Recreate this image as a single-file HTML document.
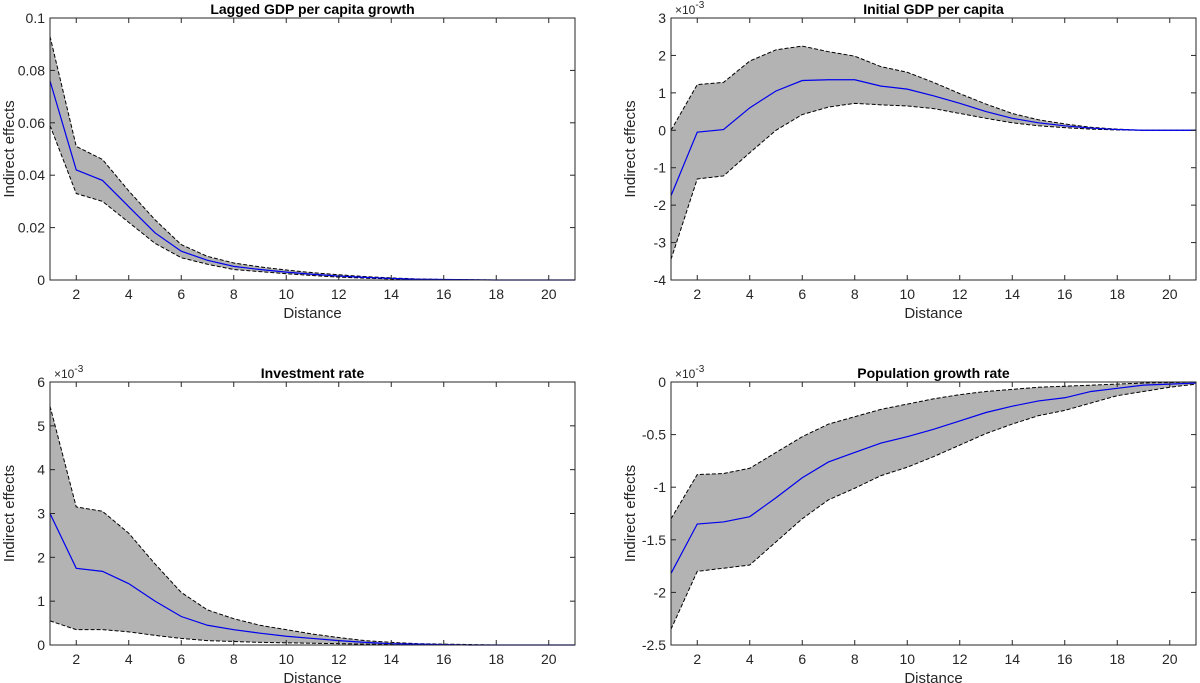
<!DOCTYPE html>
<html><head><meta charset="utf-8"><style>
html,body{margin:0;padding:0;background:#fff;}
svg{display:block;font-family:"Liberation Sans",Arial,sans-serif;}
</style></head><body>
<svg id="fig" width="1200" height="683" viewBox="0 0 1200 683" xmlns="http://www.w3.org/2000/svg"></svg>
<script>
const xCats=[1,2,3,4,5,6,7,8,9,10,11,12,13,14,15,16,17,18,19,20,21];
const xTicks=[2,4,6,8,10,12,14,16,18,20];
// Panel 1: Lagged GDP per capita growth
const p1Mean=[0.076,0.042,0.038,0.028,0.018,0.011,0.0075,0.0052,0.004,0.003,0.0022,0.0015,0.001,0.0006,0.0003,0.0002,0.0001,0,0,0,0];
const p1Upper=[0.093,0.051,0.046,0.034,0.023,0.0135,0.009,0.0065,0.005,0.0038,0.0028,0.002,0.0013,0.0008,0.0004,0.0002,0.0001,0,0,0,0];
const p1Lower=[0.059,0.033,0.030,0.022,0.014,0.0085,0.006,0.004,0.0032,0.0024,0.0017,0.0011,0.0007,0.0004,0.0002,0.0001,0,0,0,0,0];
const p1Ticks=[0,0.02,0.04,0.06,0.08,0.1];
const p1Labels=["0","0.02","0.04","0.06","0.08","0.1"];
// Panel 2: Initial GDP per capita (x1e-3)
const p2Mean=[-1.75,-0.05,0.02,0.6,1.05,1.33,1.35,1.35,1.18,1.1,0.92,0.72,0.5,0.32,0.2,0.12,0.06,0.02,0,0,0];
const p2Upper=[0,1.22,1.28,1.85,2.15,2.25,2.1,1.98,1.7,1.55,1.28,0.98,0.7,0.45,0.28,0.17,0.08,0.03,0,0,0];
const p2Lower=[-3.45,-1.3,-1.22,-0.6,0,0.42,0.62,0.72,0.68,0.65,0.58,0.45,0.32,0.2,0.12,0.07,0.03,0.01,0,0,0];
const p2Ticks=[-4,-3,-2,-1,0,1,2,3];
const p2Labels=["-4","-3","-2","-1","0","1","2","3"];
// Panel 3: Investment rate (x1e-3)
const p3Mean=[3.0,1.75,1.68,1.4,1.0,0.65,0.45,0.35,0.27,0.2,0.15,0.1,0.06,0.03,0.02,0.01,0,0,0,0,0];
const p3Upper=[5.45,3.15,3.05,2.55,1.85,1.2,0.8,0.6,0.45,0.35,0.25,0.17,0.1,0.06,0.03,0.02,0.01,0,0,0,0];
const p3Lower=[0.55,0.35,0.35,0.3,0.22,0.15,0.1,0.08,0.06,0.05,0.04,0.03,0.02,0.01,0.005,0,0,0,0,0,0];
const p3Ticks=[0,1,2,3,4,5,6];
const p3Labels=["0","1","2","3","4","5","6"];
// Panel 4: Population growth rate (x1e-3)
const p4Mean=[-1.82,-1.35,-1.33,-1.28,-1.1,-0.91,-0.76,-0.67,-0.58,-0.52,-0.45,-0.37,-0.29,-0.23,-0.18,-0.15,-0.09,-0.06,-0.03,-0.02,-0.01];
const p4Upper=[-1.3,-0.88,-0.87,-0.82,-0.67,-0.52,-0.4,-0.33,-0.26,-0.21,-0.16,-0.12,-0.09,-0.07,-0.05,-0.04,-0.03,-0.02,-0.01,-0.005,0];
const p4Lower=[-2.35,-1.8,-1.77,-1.74,-1.52,-1.3,-1.12,-1.01,-0.89,-0.81,-0.71,-0.6,-0.49,-0.4,-0.32,-0.27,-0.2,-0.13,-0.09,-0.05,-0.02];
const p4Ticks=[-2.5,-2,-1.5,-1,-0.5,0];
const p4Labels=["-2.5","-2","-1.5","-1","-0.5","0"];

const NS="http://www.w3.org/2000/svg";
const svg=document.getElementById('fig');
function mk(tag,attrs,parent){const e=document.createElementNS(NS,tag);for(const k in attrs)e.setAttribute(k,attrs[k]);(parent||svg).appendChild(e);return e;}

function panel(key,L,T,W,H,title,mean,up,lo,yt,yl,ymin,ymax,exp){
  const g=mk('g',{});
  
  
  const xs=v=>L+(v-1)/20*W;
  const ys=v=>T+H-(v-ymin)/(ymax-ymin)*H;
  let d='';
  xCats.forEach((c,i)=>{d+=(i?'L':'M')+xs(c)+' '+ys(up[i]);});
  for(let i=xCats.length-1;i>=0;i--)d+='L'+xs(xCats[i])+' '+ys(lo[i]);
  const band=mk('path',{d:d+'Z',fill:'#b3b3b3',stroke:'none'},g);
  
  
  [[up,'upper'],[lo,'lower']].forEach(([arr,n])=>{
    const p=mk('polyline',{points:xCats.map((c,i)=>xs(c)+','+ys(arr[i])).join(' '),fill:'none',stroke:'#000','stroke-width':1,'stroke-dasharray':'4,2'},g);
    
    
  });
  const m=mk('polyline',{points:xCats.map((c,i)=>xs(c)+','+ys(mean[i])).join(' '),fill:'none',stroke:'#0000ee','stroke-width':1.2},g);
  
  
  const box=mk('rect',{x:L,y:T,width:W,height:H,fill:'none',stroke:'#262626','stroke-width':1},g);
  
  
  xTicks.forEach(t=>{
    const x=xs(t);
    mk('line',{x1:x,x2:x,y1:T+H,y2:T+H-5,stroke:'#262626'},g);
    mk('line',{x1:x,x2:x,y1:T,y2:T+5,stroke:'#262626'},g);
    const tx=mk('text',{x:x,y:T+H+19,'text-anchor':'middle','font-size':14,fill:'#262626'},g);
    tx.textContent=t;
    
    
  });
  yt.forEach((t,i)=>{
    const y=ys(t);
    mk('line',{x1:L,x2:L+5,y1:y,y2:y,stroke:'#262626'},g);
    mk('line',{x1:L+W,x2:L+W-5,y1:y,y2:y,stroke:'#262626'},g);
    const tx=mk('text',{x:L-5,y:y+5,'text-anchor':'end','font-size':14,fill:'#262626'},g);
    tx.textContent=yl[i];
    
    
  });
  const ti=mk('text',{x:L+W/2,y:T-4,'text-anchor':'middle','font-size':14,'font-weight':'bold',fill:'#000'},g);
  ti.textContent=title;
  
  
  const xl=mk('text',{x:L+W/2,y:T+H+38,'text-anchor':'middle','font-size':15,fill:'#262626'},g);
  xl.textContent='Distance';
  
  
  const yx=L-36, yy=T+H/2;
  const yla=mk('text',{x:yx,y:yy,'text-anchor':'middle','font-size':15,fill:'#262626',transform:'rotate(-90 '+yx+' '+yy+')'},g);
  yla.textContent='Indirect effects';
  
  
  if(exp){
    const e=mk('text',{x:L+4,y:T-4,'font-size':12,fill:'#262626'},g);
    e.innerHTML='×10<tspan dy="-6" font-size="10">-3</tspan>';
    
    
  }
}
panel('lagged-gdp',50,18,525,262,'Lagged GDP per capita growth',p1Mean,p1Upper,p1Lower,p1Ticks,p1Labels,0,0.1,false);
panel('initial-gdp',671,18,525,262,'Initial GDP per capita',p2Mean,p2Upper,p2Lower,p2Ticks,p2Labels,-4,3,true);
panel('investment',50,382,525,263,'Investment rate',p3Mean,p3Upper,p3Lower,p3Ticks,p3Labels,0,6,true);
panel('population',671,382,525,263,'Population growth rate',p4Mean,p4Upper,p4Lower,p4Ticks,p4Labels,-2.5,0,true);
</script>
</body></html>
